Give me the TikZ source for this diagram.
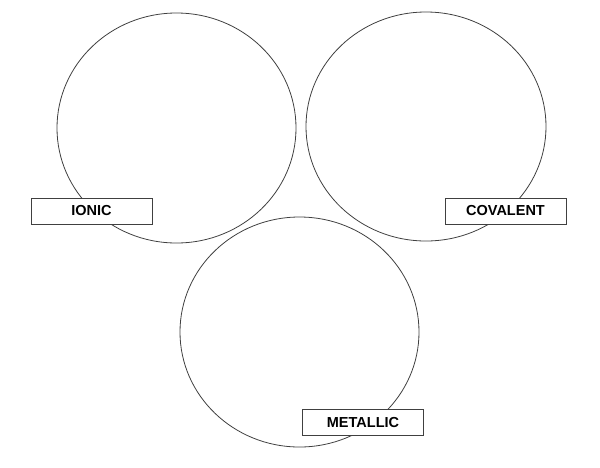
\documentclass[tikz,border=0pt]{standalone}
\usepackage{fontspec}
\setmainfont{Liberation Sans}
\usepackage{tikz}
\usetikzlibrary{positioning}

\tikzset{
    bond/.style={draw=black!75, line width=0.8pt},
    namebox/.style={draw=black!75, line width=0.8pt, fill=white, minimum width=121pt, minimum height=26pt, inner sep=0pt, font=\fontsize{14.5}{17}\selectfont\bfseries}
}

\begin{document}
\begin{tikzpicture}[x=1pt, y=-1pt]
    \useasboundingbox (0,0) rectangle (600,467);

    \draw[bond] (176.5,128) ellipse (119.5 and 115);
    \draw[bond] (426,126.5) ellipse (120 and 114.5);
    \draw[bond] (299.5,332) ellipse (119.5 and 115);

    \node[namebox] (ionic) at (91.5,211) {IONIC};
    \node[namebox] (covalent) at (505.5,211) {COVALENT};
    \node[namebox] (metallic) at (363,422.5) {METALLIC};
\end{tikzpicture}
\end{document}
